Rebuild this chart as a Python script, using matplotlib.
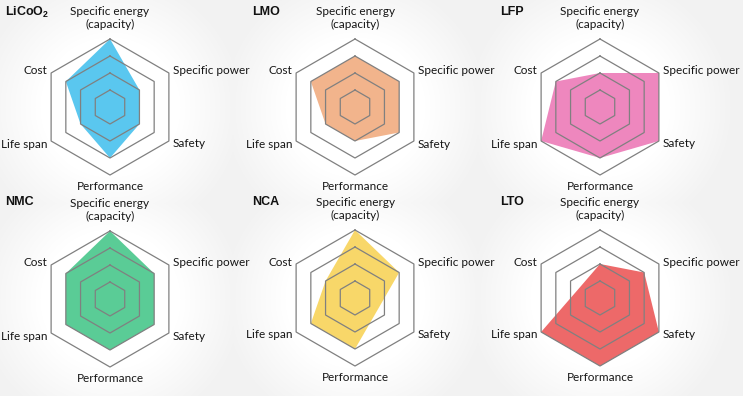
import numpy as np
import matplotlib
matplotlib.use('Agg')
import matplotlib.pyplot as plt

plt.rcParams['font.family'] = ['Lato', 'DejaVu Sans']
plt.rcParams['mathtext.fontset'] = 'custom'
plt.rcParams['mathtext.bf'] = 'Liberation Sans:bold'
plt.rcParams['mathtext.rm'] = 'Liberation Sans:bold'

# axis names, clockwise from the top
criteria = ['Specific energy\n(capacity)', 'Specific power', 'Safety',
            'Performance', 'Life span', 'Cost']
chemistries = [r'LiCoO$_\mathbf{2}$', 'LMO', 'LFP', 'NMC', 'NCA', 'LTO']

# scores 0-4 in the order of criteria
licoo2 = [4, 2, 2, 3, 2, 3]
lmo = [3, 3, 3, 2, 2, 3]
lfp = [2, 4, 4, 3, 4, 3]
nmc = [4, 3, 3, 3, 3, 3]
nca = [4, 3, 1.5, 3, 3, 2]
lto = [2, 3, 4, 4, 4, 1.33]
scores = [licoo2, lmo, lfp, nmc, nca, lto]

fill_colors = ['#3dbeed', '#f0a778', '#eb72b3', '#3dc484', '#f7d04f', '#ea4f4f']
levels = [1, 2, 3, 4]

W, H = 743, 396
# hexagon centres in pixels (from top-left) and outer radius
centres = [(110, 107), (355, 107), (600, 107), (110, 299), (355, 298), (600, 298)]
R = 68

fig = plt.figure(figsize=(W / 100, H / 100), dpi=100)
fig.patch.set_facecolor('#f2f2f2')

# soft white glow behind every panel
bg = fig.add_axes([0, 0, 1, 1])
yy, xx = np.mgrid[0:H, 0:W]
glow = np.zeros((H, W))
for cx, cy in centres:
    d = np.hypot(xx - cx, yy - cy)
    glow = np.maximum(glow, np.clip((135 - d) / 65, 0, 1))
shade = 242 + (255 - 242) * glow
bg.imshow(np.dstack([shade] * 3) / 255, extent=(0, W, H, 0), aspect='auto')
bg.set_xlim(0, W)
bg.set_ylim(H, 0)
bg.axis('off')

theta = np.pi / 2 - np.arange(len(criteria)) * np.pi / 3
theta_c = np.append(theta, theta[0])

label_pos = [
    (0, 9, 'center', 'bottom'),
    (4, 2, 'left', 'center'),
    (4, -3, 'left', 'center'),
    (0, -6, 'center', 'top'),
    (-4, -3, 'right', 'center'),
    (-4, 2, 'right', 'center'),
]

for i, (name, vals) in enumerate(zip(chemistries, scores)):
    cx, cy = centres[i]
    ax = fig.add_axes([(cx - R) / W, (H - cy - R) / H, 2 * R / W, 2 * R / H],
                      projection='polar')
    ax.set_ylim(0, 4)
    ax.axis('off')
    ax.patch.set_visible(False)
    for lv in levels:
        ax.plot(theta_c, [lv] * len(theta_c), color='#808080', lw=0.9, clip_on=False)
    v = np.append(vals, vals[0])
    ax.fill(theta_c, v, color=fill_colors[i], alpha=0.85, lw=0, clip_on=False)
    for t, lab, (dx, dy, ha, va) in zip(theta, criteria, label_pos):
        ax.annotate(lab, xy=(t, 4), xytext=(dx * 0.72, dy * 0.72),
                    textcoords='offset points', ha=ha, va=va,
                    fontsize=8.5, color='#161616', linespacing=1.25,
                    annotation_clip=False)
    col = i % 3
    fig.text((5 + col * 247.5) / W, 1 - (12 + (i // 3) * 190) / H, name,
             fontsize=9, fontweight='bold', family='Liberation Sans',
             ha='left', va='center', color='#111111')

fig.savefig('out.png', dpi=100, facecolor=fig.get_facecolor())
